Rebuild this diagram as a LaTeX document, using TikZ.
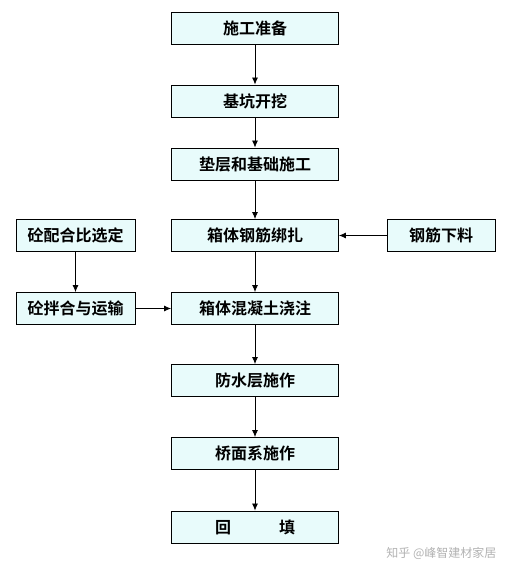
\documentclass[tikz,border=0pt]{standalone}
\usepackage{fontspec}
\usetikzlibrary{arrows.meta}
\newfontfamily\cjkbold{Noto Sans CJK SC Bold}
\newfontfamily\cjkfont{Noto Sans CJK SC}
\definecolor{boxFill}{HTML}{E8FBFB}

\begin{document}
\begin{tikzpicture}[
    x=1pt, y=-1pt,
    stepbox/.style={draw=black, line width=0.9pt, fill=boxFill, inner sep=0pt,
        minimum width=167pt, minimum height=32pt,
        font=\cjkbold\fontsize{16}{18}\selectfont},
    sidebox/.style={stepbox, minimum width=119pt},
    flow/.style={-{Latex[length=7pt, width=6pt]}, line width=0.8pt},
]

\useasboundingbox (0,0) rectangle (505,577);

% Main column
\node[stepbox] (prep)  at (255, 28.5)  {施工准备};
\node[stepbox] (dig)   at (255, 101)   {基坑开挖};
\node[stepbox] (base)  at (255, 164)   {垫层和基础施工};
\node[stepbox] (rebar) at (255, 235.5) {箱体钢筋绑扎};
\node[stepbox] (pour)  at (255, 308.5) {箱体混凝土浇注};
\node[stepbox] (water) at (255, 380.5) {防水层施作};
\node[stepbox] (deck)  at (255, 453.5) {桥面系施作};
\node[stepbox] (back)  at (255, 527)   {回\hspace{3em}填};

% Side boxes
\node[sidebox] (ratio) at (75.5, 235.5)  {砼配合比选定};
\node[sidebox] (mix)   at (75.5, 308.5)  {砼拌合与运输};
\node[stepbox, minimum width=108pt] (cut) at (441, 235.5) {钢筋下料};

% Connectors
\draw[flow] (prep)  -- (dig);
\draw[flow] (dig)   -- (base);
\draw[flow] (base)  -- (rebar);
\draw[flow] (rebar) -- (pour);
\draw[flow] (pour)  -- (water);
\draw[flow] (water) -- (deck);
\draw[flow] (deck)  -- (back);
\draw[flow] (ratio) -- (mix);
\draw[flow] (mix)   -- (pour);
\draw[flow] (cut)   -- (rebar);

% Watermark
\node[font=\cjkfont\fontsize{12}{14}\selectfont, text=black!30, anchor=east]
    (mark) at (500, 553) {知乎 @峰智建材家居};

\end{tikzpicture}
\end{document}
